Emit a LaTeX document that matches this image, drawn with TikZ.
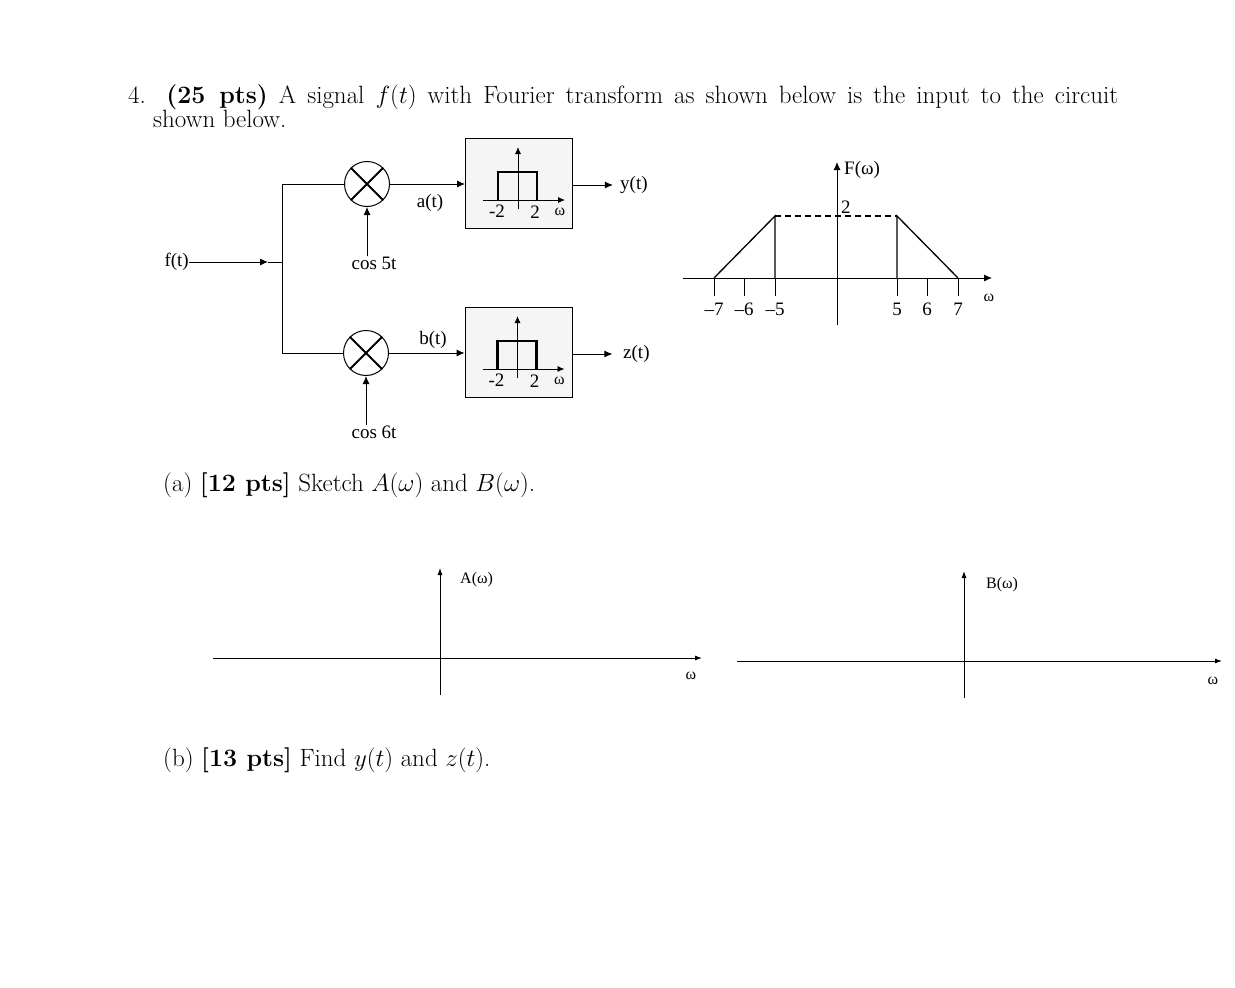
\documentclass[tikz,border=0pt]{standalone}
\usepackage{fontspec}
\newfontfamily\tms{Liberation Serif}
\usetikzlibrary{arrows.meta}
\begin{document}
\begin{tikzpicture}[x=1pt,y=-1pt,
  txt/.style={anchor=base west,inner sep=0,font=\fontsize{25}{28}\selectfont},
  lab/.style={inner sep=0,font=\tms\fontsize{19}{21}\selectfont},
  sm/.style={inner sep=0,font=\tms\fontsize{16}{18}\selectfont},
  wire/.style={line width=0.9pt},
  arr/.style={wire,-{Latex[length=8pt,width=7pt]}},
  mix/.style={circle,draw,line width=1pt,minimum size=45pt,inner sep=0},
  filt/.style={draw,line width=0.9pt,fill=black!4,minimum width=107pt,minimum height=90pt,inner sep=0}]
\useasboundingbox (0,0) rectangle (1235,988);
% header text
\node[txt] (t1) at (128,103) {\makebox[990pt][s]{4. \textbf{(25 pts)} A signal $f(t)$ with Fourier transform as shown below is the input to the circuit}};
\node[txt] (t2) at (153,127) {shown below.};
% block diagram
\node[lab,anchor=east] (f) at (189,262) {f(t)};
\coordinate (j) at (282,262);
\coordinate (fm) at (268,262);
\draw[arr] (f.east) -- (fm);
\draw[wire] (fm) -- (j);
\node[mix] (m1) at (367,184) {};
\node[mix] (m2) at (366,353) {};
\foreach \m in {m1,m2}{
  \draw[line width=2pt] (\m.north west) -- (\m.south east);
  \draw[line width=2pt] (\m.north east) -- (\m.south west);}
\coordinate (j1) at (282,184);
\coordinate (j2) at (282,353);
\draw[wire] (j1) -- (j2);
\draw[wire] (j1) -- (m1.west);
\draw[wire] (j2) -- (m2.west);
\node[filt] (b1) at (519,183) {};
\node[filt] (b2) at (518.5,352) {};
\draw[arr] (m1.east) -- (m1.east -| b1.west);
\draw[arr] (m2.east) -- (m2.east -| b2.west);
\node[lab] (a) at (430,203) {a(t)};
\node[lab] (b) at (433,340) {b(t)};
\node[lab] (c5) at (374,263) {cos 5t};
\node[lab] (c6) at (374,432) {cos 6t};
\draw[arr] (c5.north -| m1) -- (m1.south);
\draw[arr] (c6.north -| m2) -- (m2.south);
\node[lab,anchor=west] (y) at (620,185) {y(t)};
\node[lab,anchor=west] (z) at (623,354) {z(t)};
\draw[arr] (b1.east |- y) -- ++(40,0) coordinate (ye);
\draw[arr] (b2.east |- z) -- ++(40,0) coordinate (ze);
\foreach \b in {b1,b2}{
  \begin{scope}[shift={(\b.center)}]
    \draw[wire,-{Latex[length=7pt,width=6pt]}] (-36,17) -- (46,17);
    \draw[wire,-{Latex[length=7pt,width=6pt]}] (-1,26) -- (-1,-36);
    \draw[line width=2.5pt] (-21,17) -- (-21,-11) -- (18,-11) -- (18,17);
    \node[lab] at (-22,28) {-2};
    \node[lab] at (16,29) {2};
    \node[sm] at (41,29) {ω};
  \end{scope}}
% spectrum F
\coordinate (o) at (837,278);
\draw[wire,-{Latex[length=8pt,width=7pt]}] (683,278) -- (992,278);
\draw[wire,-{Latex[length=8pt,width=7pt]}] (837,325) -- (837,162);
\draw[line width=1.3pt] (714,278) -- (775,216) -- (775,278);
\draw[line width=1.3pt] (897,278) -- (897,216) -- (958,278);
\draw[line width=1.1pt,dash pattern=on 6pt off 4pt] (775,216) -- (897,216);
\foreach \x/\t in {714/{–7},744/{–6},775/{–5},897/5,927/6,958/7}{
  \draw[wire] (\x,278) -- (\x,296);
  \node[lab] at (\x,309) {\t};}
\node[lab,anchor=west] (F) at (844,170) {F(ω)};
\node[lab,anchor=west] (two) at (841,207) {2};
\node[sm] (w0) at (989,298) {ω};
% parts
\node[txt] (pa) at (163,491) {(a) \textbf{[12 pts]} Sketch $A(\omega)$ and $B(\omega)$.};
\node[txt] (pb) at (163,766) {(b) \textbf{[13 pts]} Find $y(t)$ and $z(t)$.};
% A axes
\draw[wire,-{Latex[length=7pt,width=5pt]}] (213,658) -- (702,658);
\draw[wire,-{Latex[length=7pt,width=5pt]}] (440,695) -- (440,568);
\node[sm,anchor=west] (A) at (460,580) {A(ω)};
\node[sm] (wa) at (691,676) {ω};
% B axes
\draw[wire,-{Latex[length=7pt,width=5pt]}] (737,661) -- (1222,661);
\draw[wire,-{Latex[length=7pt,width=5pt]}] (964,698) -- (964,571);
\node[sm,anchor=west] (B) at (986,585) {B(ω)};
\node[sm] (wb) at (1213,681) {ω};
\end{tikzpicture}
\end{document}
